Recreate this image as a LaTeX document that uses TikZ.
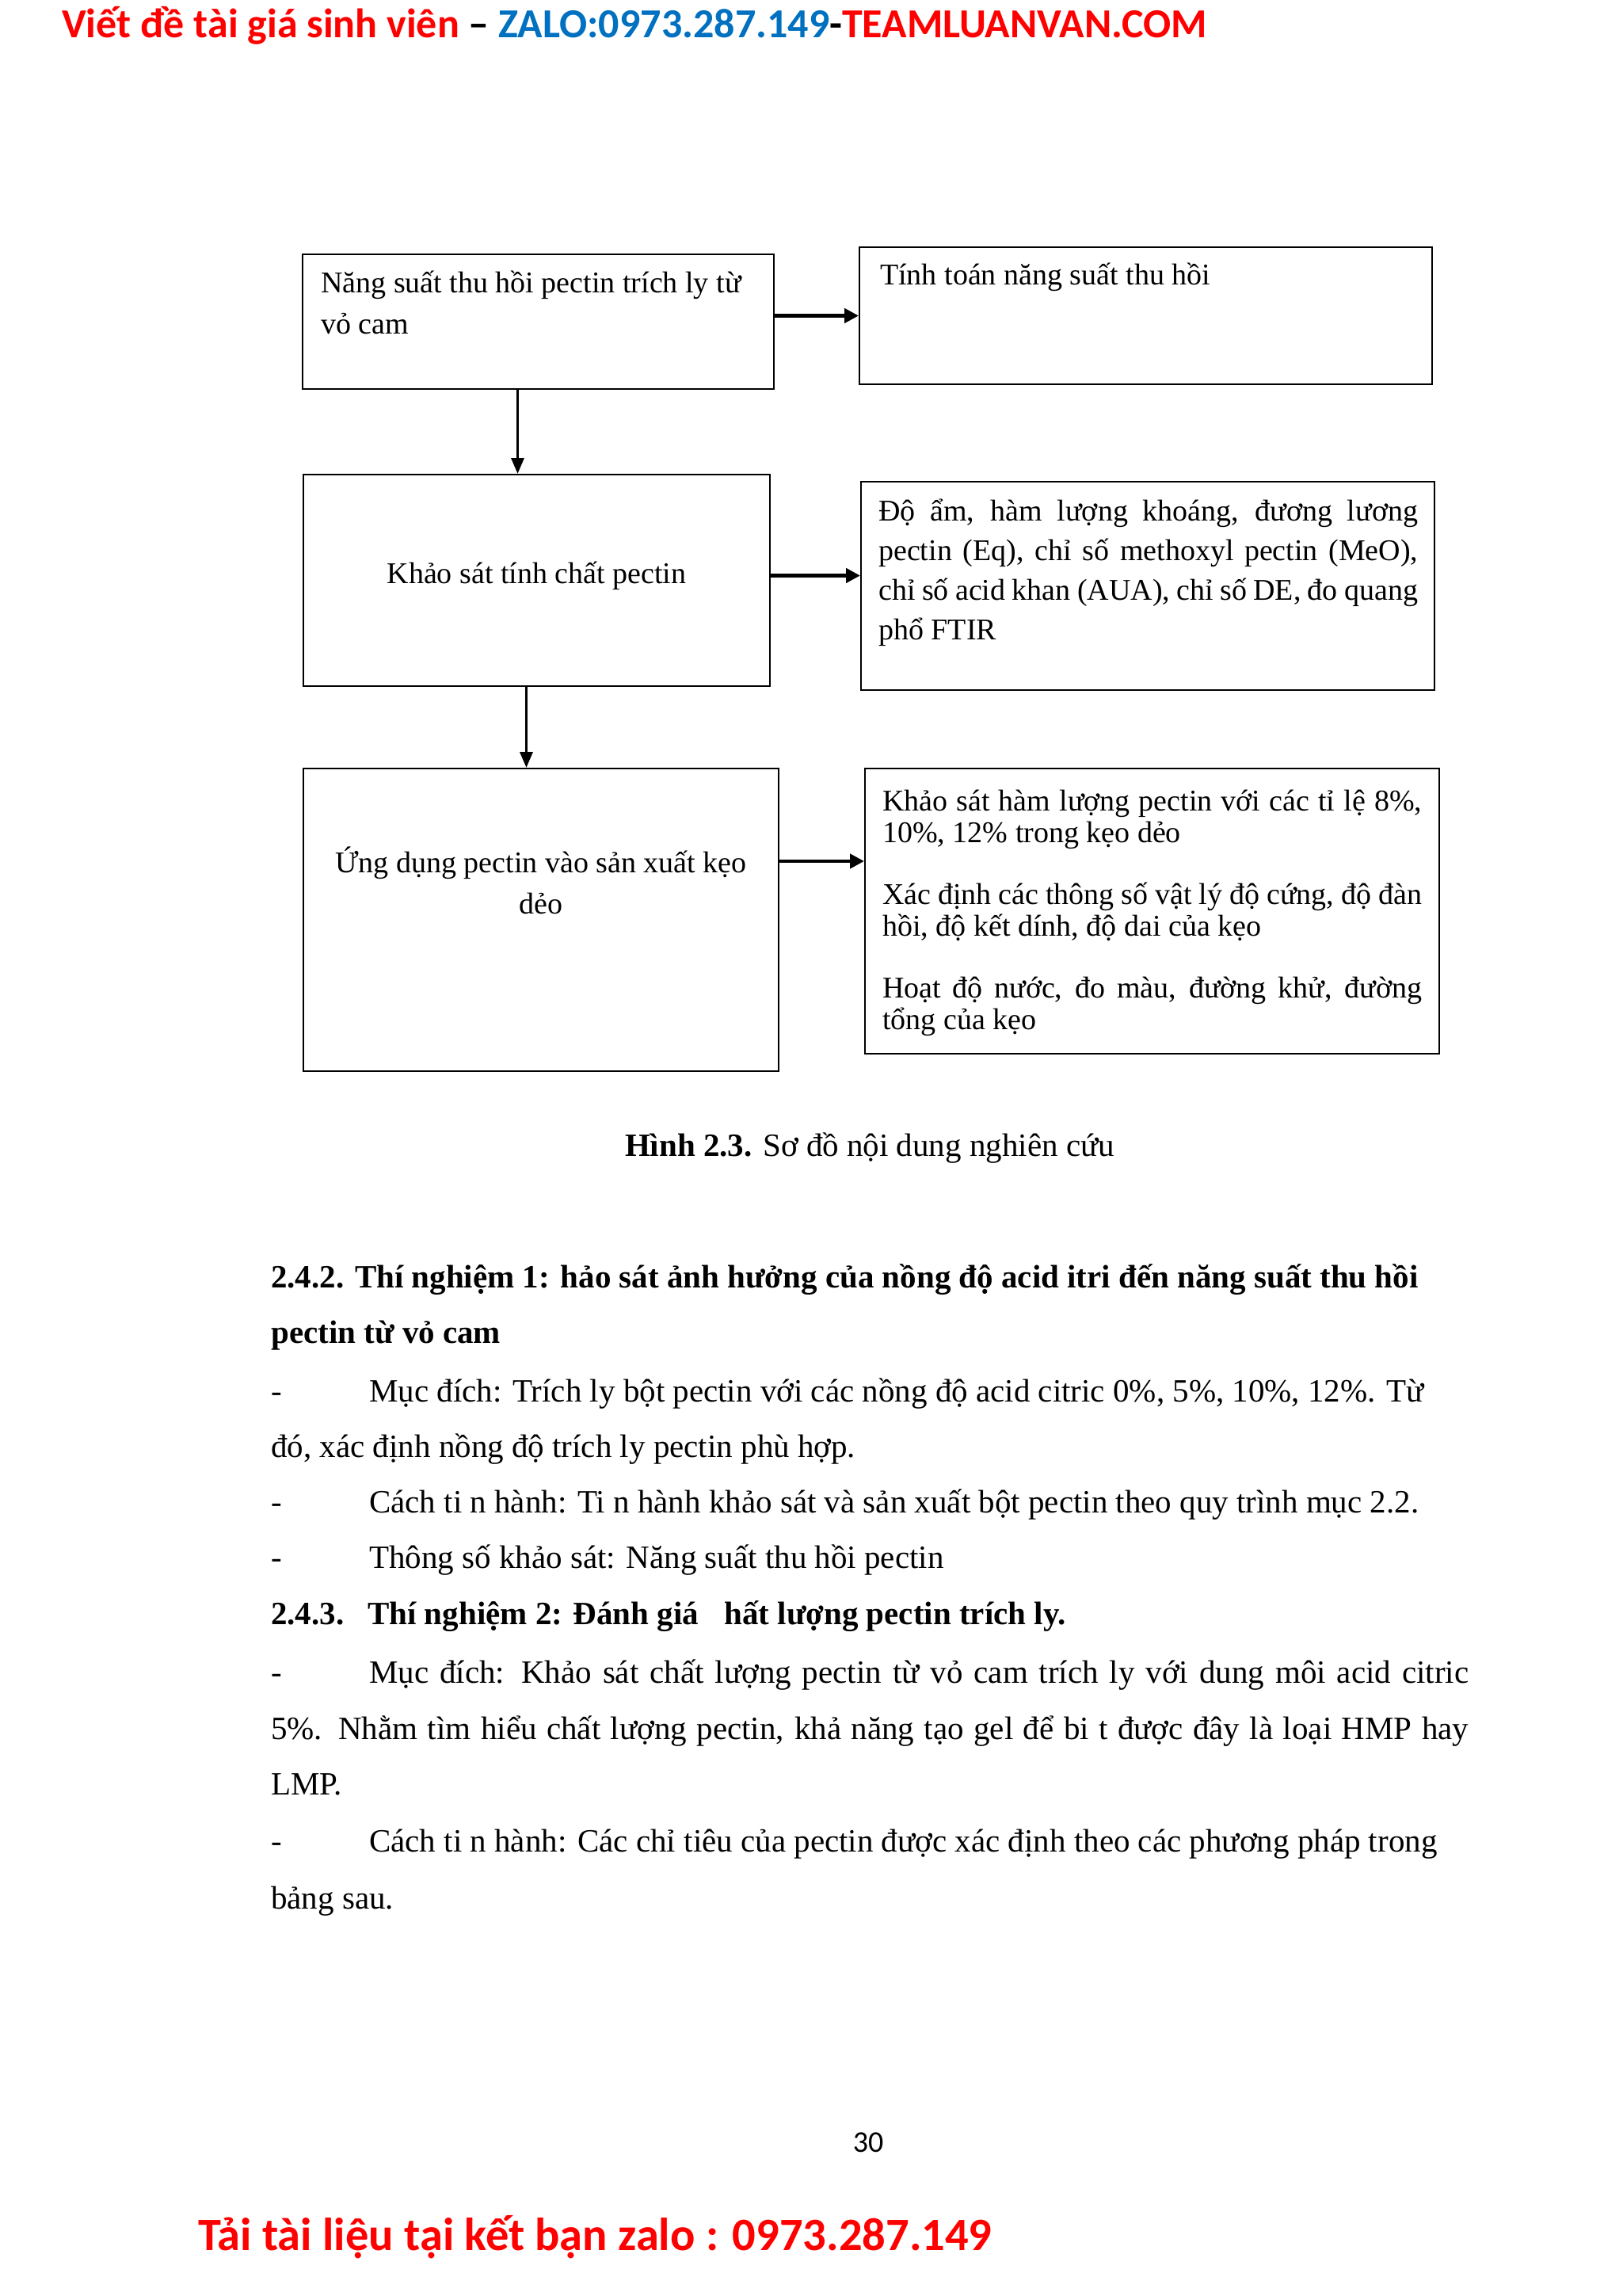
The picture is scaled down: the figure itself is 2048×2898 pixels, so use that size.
\documentclass[tikz,border=0pt]{standalone}
\usepackage{fontspec}
\setmainfont{Liberation Serif}
\newfontfamily\calibfont{Carlito}
\usepackage{xcolor}
\usetikzlibrary{arrows.meta, positioning, calc}
\definecolor{zred}{RGB}{255,0,0}
\definecolor{zblue}{RGB}{0,112,192}
\newcommand{\dashtab}{\makebox[124pt][l]{-}}

\begin{document}
\begin{tikzpicture}[
    x=1pt, y=-1pt,
    box/.style    = {rectangle, draw, line width=2pt, inner sep=0pt},
    txt/.style    = {font=\fontsize{38}{52}\selectfont, inner sep=0pt},
    harrow/.style = {line width=4.5pt, -{Triangle[length=18pt,width=18pt]}},
    varrow/.style = {line width=3.5pt, -{Triangle[length=20pt,width=16pt]}},
    body/.style   = {font=\fontsize{41}{71}\selectfont, inner sep=0pt, anchor=base west},
    banner/.style = {font=\calibfont\bfseries\fontsize{52}{60}\selectfont,
                     inner sep=0pt, anchor=base west}
]
\fill[white] (0,0) rectangle (2048,2898);
\useasboundingbox (0,0) rectangle (2048,2898);

% ========= page banners =========
\node[banner] (topbanner) at (78,48)
    {\textcolor{zred}{Viết đề tài giá sinh viên} – \textcolor{zblue}{ZALO:0973.287.149}-\textcolor{zred}{TEAMLUANVAN.COM}};
\node[banner, font=\calibfont\bfseries\fontsize{58.5}{60}\selectfont, text=zred] (botbanner) at (250,2840)
    {Tải tài liệu tại kết bạn zalo : 0973.287.149};
\node[inner sep=0pt, anchor=base, font=\calibfont\fontsize{38}{40}\selectfont] (pageno) at (1096,2716) {30};

% ========= boxes =========
\node[box, minimum width=595pt, minimum height=170pt] (yield) at (679.5,406) {};
\node[box, minimum width=723pt, minimum height=173pt] (calc)  at (1446.5,398.5) {};
\node[box, minimum width=589pt, minimum height=267pt] (props) at (677.5,732.5) {};
\node[box, minimum width=724pt, minimum height=263pt] (tests) at (1449,739.5) {};
\node[box, minimum width=600pt, minimum height=382pt] (candy) at (683,1161) {};
\node[box, minimum width=725pt, minimum height=360pt] (gummy) at (1454.5,1150) {};

% ========= box texts =========
\node[txt, text width=560pt, align=flush left, anchor=base west] (yieldtxt)
    at ([xshift=24pt,yshift=-49pt]yield.north west)
    {Năng suất thu hồi pectin trích ly từ\\ vỏ cam};
\node[txt, anchor=base west] (calctxt)
    at ([xshift=27pt,yshift=-48pt]calc.north west) {Tính toán năng suất thu hồi};
\node[txt, anchor=base] (propstxt)
    at ([yshift=-4pt]props.center) {Khảo sát tính chất pectin};
\node[txt, text width=681pt, align=justify, anchor=base west, font=\fontsize{38}{50}\selectfont] (teststxt)
    at ([xshift=23pt,yshift=-50pt]tests.north west)
    {Độ ẩm, hàm lượng khoáng, đương lương\linebreak pectin (Eq), chỉ số methoxyl pectin (MeO),\linebreak chỉ số acid khan (AUA), chỉ số DE, đo quang\linebreak phổ FTIR};
\node[txt, text width=580pt, align=flush center, anchor=base] (candytxt)
    at ([yshift=-132pt]candy.north)
    {Ứng dụng pectin vào sản xuất kẹo\\ dẻo};
\node[txt, text width=681pt, align=justify, anchor=base west, font=\fontsize{38}{40}\selectfont] (gummytxt)
    at ([xshift=23pt,yshift=-54pt]gummy.north west)
    {Khảo sát hàm lượng pectin với các tỉ lệ 8\%,\linebreak 10\%, 12\% trong kẹo dẻo\\[38pt]
     Xác định các thông số vật lý độ cứng, độ đàn\linebreak hồi, độ kết dính, độ dai của kẹo\\[38pt]
     Hoạt độ nước, đo màu, đường khử, đường\linebreak tổng của kẹo};

% ========= arrows =========
\coordinate (cd) at ([yshift=6pt]props.east);
\coordinate (ef) at ([yshift=74pt]candy.east);
\coordinate (ac) at ([xshift=-26pt]yield.south);
\coordinate (ce) at ([xshift=-13pt]props.south);
\draw[harrow] (yield.east |- calc.west) -- (calc.west);
\draw[harrow] (cd) -- (cd -| tests.west);
\draw[harrow] (ef) -- (ef -| gummy.west);
\draw[varrow] (ac) -- (ac |- props.north);
\draw[varrow] (ce) -- (ce |- candy.north);

% ========= caption and body text =========
\node[body, anchor=base] (caption) at (1098,1459) {\textbf{Hình 2.3.} Sơ đồ nội dung nghiên cứu};

\node[body] (h1a)   at (342,1625) {\textbf{2.4.2. Thí nghiệm 1: hảo sát ảnh hưởng của nồng độ acid itri đến năng suất thu hồi}};
\node[body] (h1b)   at (342,1695) {\textbf{pectin từ vỏ cam}};
\node[body] (aim1)  at (342,1769) {\dashtab Mục đích: Trích ly bột pectin với các nồng độ acid citric 0\%, 5\%, 10\%, 12\%. Từ};
\node[body] (aim1b) at (342,1839) {đó, xác định nồng độ trích ly pectin phù hợp.};
\node[body] (proc1) at (342,1909) {\dashtab Cách ti n hành: Ti n hành khảo sát và sản xuất bột pectin theo quy trình mục 2.2.};
\node[body] (par1)  at (342,1979) {\dashtab Thông số khảo sát: Năng suất thu hồi pectin};
\node[body] (h2)    at (342,2050) {\textbf{\makebox[122pt][l]{2.4.3.}Thí nghiệm 2: Đánh giá\hspace{22pt} hất lượng pectin trích ly.}};
\node[body] (aim2)  at (342,2124) {\makebox[1512pt][s]{\dashtab Mục đích: Khảo sát chất lượng pectin từ vỏ cam trích ly với dung môi acid citric}};
\node[body] (aim2b) at (342,2195) {\makebox[1512pt][s]{5\%. Nhằm tìm hiểu chất lượng pectin, khả năng tạo gel để bi t được đây là loại HMP hay}};
\node[body] (aim2c) at (342,2265) {LMP.};
\node[body] (proc2) at (342,2337) {\dashtab Cách ti n hành: Các chỉ tiêu của pectin được xác định theo các phương pháp trong};
\node[body] (proc2b) at (342,2409) {bảng sau.};

\end{tikzpicture}
\end{document}
